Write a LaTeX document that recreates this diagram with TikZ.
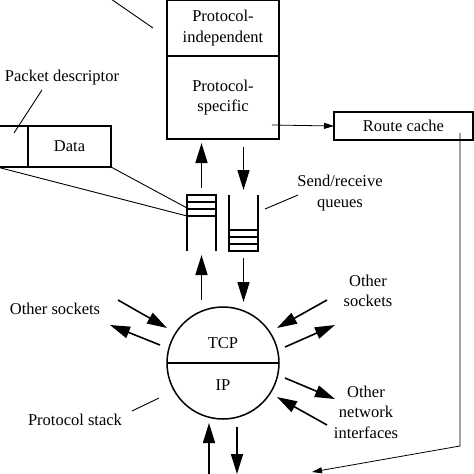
\documentclass[tikz,border=0pt]{standalone}
\usepackage{fontspec}
\setmainfont{Liberation Serif}
\usetikzlibrary{positioning, calc, arrows.meta}

\begin{document}
\begin{tikzpicture}[
        x=1pt, y=-1pt,
        font=\fontsize{16.5}{20.5}\selectfont,
        box/.style={rectangle, draw, line width=1.5pt, inner sep=0pt, outer sep=0pt, align=center},
        lbl/.style={inner sep=0pt, align=center},
        queue/.style={inner sep=0pt, outer sep=0pt, minimum width=29pt, minimum height=56pt},
        wall/.style={line width=1.5pt},
        arrow/.style={-{Triangle[length=20pt, width=12pt]}, line width=1.6pt},
        thinarrow/.style={-{Triangle[length=10pt, width=6pt]}, line width=0.8pt},
        leader/.style={line width=0.9pt}
    ]
    \clip (0,0) rectangle (474,474);

    % Socket
    \node[box, minimum width=112pt, minimum height=56pt] (indep) at (223,28) {Protocol-\\independent};
    \node[box, minimum width=112pt, minimum height=83pt, below=0pt of indep] (spec) {Protocol-\\specific};
    \coordinate (socklbl) at (98,-10);
    \coordinate (sockpt) at (153,28);
    \draw[leader] (socklbl) -- (sockpt);

    % Route cache
    \node[box, minimum width=139pt, minimum height=28pt] (rcache) at (403.5,126) {Route cache};
    \coordinate (rcout) at (272,125);
    \draw[thinarrow] (rcout) -- (rcache.west);
    \coordinate (rcin) at (460,133);
    \coordinate (rcbend) at (460,446);
    \coordinate (rcend) at (312,472);
    \draw[thinarrow] (rcin) -- (rcbend) -- (rcend);

    % Packet
    \node[box, minimum width=31pt, minimum height=41pt] (pdesc) at (12.5,146.5) {};
    \node[box, minimum width=83pt, minimum height=41pt, right=0pt of pdesc] (data) {Data};
    \node[lbl] (pdlbl) at (62,78) {Packet descriptor};
    \coordinate (pdtop) at (42,90);
    \coordinate (pdin) at (14,133);
    \draw[leader] (pdtop) -- (pdin);

    % Queues
    \node[queue] (sendq) at (201.5,223) {};
    \node[queue] (recvq) at (243.5,223) {};
    \draw[wall] (sendq.south west) -- (sendq.north west) -- (sendq.north east) -- (sendq.south east);
    \foreach \i in {1,2,3}
        \draw[wall] ($(sendq.north west)+(0,7*\i)$) -- ($(sendq.north east)+(0,7*\i)$);
    \draw[wall] (recvq.north west) -- (recvq.south west) -- (recvq.south east) -- (recvq.north east);
    \foreach \i in {1,2,3}
        \draw[wall] ($(recvq.south west)+(0,-7*\i)$) -- ($(recvq.south east)+(0,-7*\i)$);
    \draw[leader] (pdesc.south west) -- ($(sendq.north west)+(0,21)$);
    \draw[leader] (data.south east) -- ($(sendq.north west)+(0,13)$);
    \node[lbl] (qlbl) at (340,193) {Send/receive\\queues};
    \coordinate (qa) at (265,209);
    \coordinate (qb) at (298,195);
    \draw[leader] (qa) -- (qb);

    % Protocol stack
    \node[circle, draw, line width=1.5pt, minimum size=112pt, inner sep=0pt, outer sep=0pt] (stack) at (223,363) {};
    \draw[wall] (stack.west) -- (stack.east);
    \node[lbl] (tcp) at (223,343) {TCP};
    \node[lbl] (ip) at (223,385) {IP};
    \node[lbl] (pslbl) at (75,420) {Protocol stack};
    \coordinate (psa) at (132,411);
    \coordinate (psb) at (159,398);
    \draw[leader] (psa) -- (psb);

    % Vertical arrows
    \draw[arrow] ($(sendq.north)+(0,-7)$) -- ($(sendq.north |- spec.south)+(0,4)$);
    \draw[arrow] ($(recvq.north |- spec.south)+(0,8)$) -- ($(recvq.north)+(0,-5)$);
    \draw[arrow] ($(sendq.south |- stack.north)+(0,-7)$) -- ($(sendq.south)+(0,4)$);
    \draw[arrow] ($(recvq.south)+(0,7)$) -- ($(recvq.south |- stack.north)+(0,-5)$);
    \coordinate (bin) at (209,474);
    \coordinate (bout) at (237,474);
    \draw[arrow] (bin) -- ($(stack.south)+(-14,4)$);
    \draw[arrow] ($(stack.south)+(14,8)$) -- (bout);

    % Other sockets and interfaces
    \node[lbl] (oslft) at (55,309) {Other sockets};
    \node[lbl] (osrgt) at (368,291) {Other\\sockets};
    \node[lbl] (onif) at (366,412) {Other\\network\\interfaces};
    \coordinate (l1a) at (118,300);  \coordinate (l1b) at (167,328);
    \coordinate (l2a) at (160,345);  \coordinate (l2b) at (110,325);
    \coordinate (r1a) at (327,300);  \coordinate (r1b) at (277,328);
    \coordinate (r2a) at (285,347);  \coordinate (r2b) at (335,325);
    \coordinate (r3a) at (285,378);  \coordinate (r3b) at (335,399);
    \coordinate (r4a) at (327,425);  \coordinate (r4b) at (277,397);
    \foreach \a in {l1,l2,r1,r2,r3,r4}
        \draw[arrow] (\a a) -- (\a b);
\end{tikzpicture}
\end{document}
